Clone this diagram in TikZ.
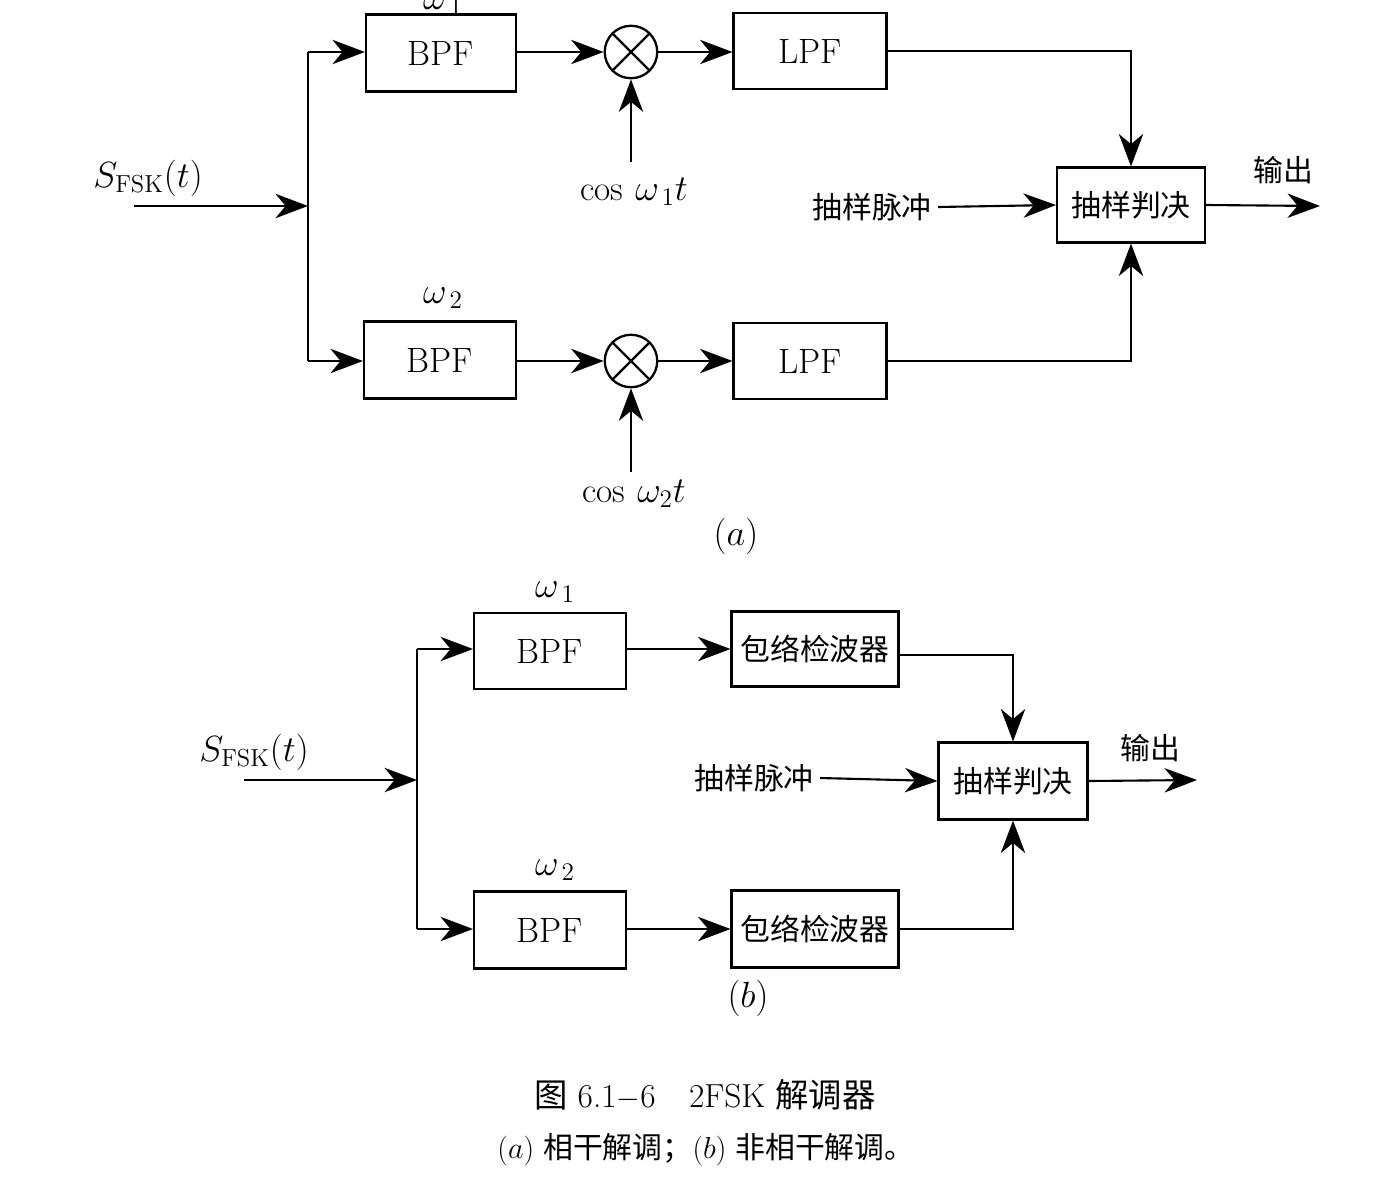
\documentclass[tikz,border=0pt]{standalone}
\usepackage{fontspec}
\newfontfamily\cjk{Noto Sans CJK SC}
\usetikzlibrary{arrows.meta}
\begin{document}
\begin{tikzpicture}[x=0.02cm,y=-0.02cm,
  ar/.style={-{Stealth[scale=2.2,inset=2.6pt]}},
  ln/.style={line width=1.2pt},
  box/.style={draw,line width=1.2pt,inner sep=0pt,font=\fontsize{20}{24}\selectfont},
  cb/.style={draw,line width=1.2pt,inner sep=0pt,font=\cjk\fontsize{17}{20}\selectfont},
  mul/.style={draw,circle,line width=1.3pt,minimum size=1.05cm,inner sep=0pt},
  lab/.style={font=\fontsize{20}{24}\selectfont},
  cl/.style={font=\cjk\fontsize{17}{20}\selectfont}]
\useasboundingbox (0,0) rectangle (1392,1190);
% (a)
\node[box,minimum width=3cm,minimum height=1.54cm] (b1) at (441,53) {BPF};
\node[box,minimum width=3.04cm,minimum height=1.54cm] (b2) at (440,360) {BPF};
\node[mul] (m1) at (631,52) {};
\draw[line width=1.3pt] (m1.north east)--(m1.south west) (m1.north west)--(m1.south east);
\node[mul] (m2) at (631,361) {};
\draw[line width=1.3pt] (m2.north east)--(m2.south west) (m2.north west)--(m2.south east);
\node[box,minimum width=3.06cm,minimum height=1.52cm] (l1) at (810,51) {LPF};
\node[box,minimum width=3.06cm,minimum height=1.52cm] (l2) at (810,361) {LPF};
\node[cb,minimum width=2.96cm,minimum height=1.5cm] (d1) at (1131,205) {抽样判决};
\node[lab] (s1) at (148,178) {$S_{\mathrm{FSK}}(t)$};
\coordinate (i1) at (134,206); \coordinate (j1) at (308,206);
\coordinate (u1) at (308,52); \coordinate (v1) at (308,361);
\draw[ln,ar] (i1)--(j1);
\draw[ln] (u1)--(v1);
\draw[ln,ar] (u1)--(b1.west|-u1);
\draw[ln,ar] (v1)--(b2.west|-v1);
\draw[ln,ar] (b1.east|-m1)--(m1.west);
\draw[ln,ar] (b2.east|-m2)--(m2.west);
\draw[ln,ar] (m1.east)--(l1.west|-m1);
\draw[ln,ar] (m2.east)--(l2.west|-m2);
\node[lab] (c1) at (634,192) {$\cos\,\omega_{\,1}t$};
\node[lab] (c2) at (634,494) {$\cos\,\omega_{2}t$};
\coordinate (c1t) at (631,162); \coordinate (c2t) at (631,472);
\draw[ln,ar] (c1t)--(m1.south);
\draw[ln,ar] (c2t)--(m2.south);
\draw[ln,ar] (l1.east)-|(d1.north);
\draw[ln,ar] (l2.east)-|(d1.south);
\node[cl,anchor=east] (p1) at (938,207) {抽样脉冲};
\draw[ln,ar] (p1.east)--(d1.west);
\coordinate (o1) at (1320,206);
\draw[ln,ar] (d1.east)--(o1);
\node[cl] at (1283,170) {输出};
\node[lab] at (443,4) {$\omega_{\,1}$};
\node[lab] at (443,298) {$\omega_{\,2}$};
\node[lab] at (736,536) {$(a)$};
% (b)
\node[box,minimum width=3.04cm,minimum height=1.52cm] (e1) at (550,651) {BPF};
\node[box,minimum width=3.04cm,minimum height=1.54cm] (e2) at (550,930) {BPF};
\node[cb,minimum width=3.34cm,minimum height=1.5cm] (f1) at (815,649) {包络检波器};
\node[cb,minimum width=3.34cm,minimum height=1.54cm] (f2) at (815,929) {包络检波器};
\node[cb,minimum width=2.98cm,minimum height=1.54cm] (d2) at (1013,781) {抽样判决};
\node[lab] (s2) at (254,752) {$S_{\mathrm{FSK}}(t)$};
\coordinate (i2) at (244,780); \coordinate (j2) at (417,780);
\coordinate (u2) at (417,649); \coordinate (v2) at (417,929);
\draw[ln,ar] (i2)--(j2);
\draw[ln] (u2)--(v2);
\draw[ln,ar] (u2)--(e1.west|-u2);
\draw[ln,ar] (v2)--(e2.west|-v2);
\draw[ln,ar] (e1.east|-f1)--(f1.west);
\draw[ln,ar] (e2.east|-f2)--(f2.west);
\draw[ln,ar] (f1.east|-0,655)-|(d2.north);
\draw[ln,ar] (f2.east)-|(d2.south);
\node[cl,anchor=east] (p2) at (820,778) {抽样脉冲};
\draw[ln,ar] (p2.east)--(d2.west);
\coordinate (o2) at (1197,780);
\draw[ln,ar] (d2.east)--(o2);
\node[cl] at (1150,748) {输出};
\node[lab] at (555,592) {$\omega_{\,1}$};
\node[lab] at (555,870) {$\omega_{\,2}$};
\node[lab] at (748,998) {$(b)$};
% caption
\node[font=\fontsize{19}{22}\selectfont] at (705,1095) {{\cjk 图} 6.1$-$6\quad 2FSK {\cjk 解调器}};
\node[font=\fontsize{17}{20}\selectfont] at (706,1150) {($a$) {\cjk 相干解调；}($b$) {\cjk 非相干解调。}};
\end{tikzpicture}
\end{document}
